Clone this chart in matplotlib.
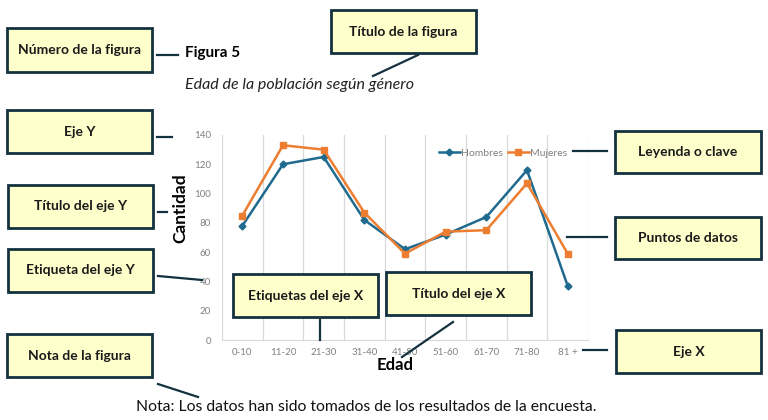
import matplotlib
matplotlib.use("Agg")
import matplotlib.pyplot as plt
from matplotlib.patches import Rectangle
from matplotlib.lines import Line2D

categories = ["0-10", "11-20", "21-30", "31-40", "41-50", "51-60", "61-70", "71-80", "81 +"]
hombres = [78, 120, 125, 82, 62, 72, 84, 116, 37]
mujeres = [85, 133, 130, 87, 59, 74, 75, 107, 59]
yticks = [0, 20, 40, 60, 80, 100, 120, 140]

W, H = 768, 420
fig = plt.figure(figsize=(W / 100, H / 100), dpi=100)
plt.rcParams['font.family'] = ['Lato', 'DejaVu Sans']

def fx(x):
    return x / W

def fy(y):
    return 1 - y / H

# main chart axes
l, r, t, b = 222, 588, 135, 340
ax = fig.add_axes([fx(l), fy(b), (r - l) / W, (b - t) / H])
x = list(range(len(categories)))
ax.plot(x, hombres, color="#1F6A8E", lw=1.8, marker="D", ms=3.5, label="Hombres", zorder=3)
ax.plot(x, mujeres, color="#ED7D31", lw=1.8, marker="s", ms=4.5, label="Mujeres", zorder=3)
ax.set_xlim(-0.5, len(categories) - 0.5)
ax.set_ylim(0, 140)
ax.set_yticks(yticks)
ax.set_xticks(x)
ax.set_xticklabels(categories)
for xb in range(0, len(categories) + 1):
    ax.axvline(xb - 0.5, color="#D9D9D9", lw=0.9, zorder=0)
for s in ["top", "right", "left"]:
    ax.spines[s].set_visible(False)
ax.spines["bottom"].set_color("#D9D9D9")
ax.tick_params(axis="both", length=0, labelsize=7, labelcolor="#808080", pad=6)
ax.tick_params(axis="y", pad=8)
ax.set_ylabel("Cantidad", fontsize=12.5, fontweight="bold", color="black")
ax.yaxis.set_label_coords((180 - l) / (r - l), (b - 208) / (b - t))
ax.set_xlabel("Edad", fontsize=12, fontweight="bold", color="black")
ax.xaxis.set_label_coords((395 - l) / (r - l), (b - 365) / (b - t))
ax.xaxis.label.set_va("center")
ax.yaxis.label.set_va("center")
leg = ax.legend(loc="center right", bbox_to_anchor=(1 - 21 / (r - l), (b - 153) / (b - t)),
                ncol=2, frameon=False,
                fontsize=7.5, labelcolor="#808080", handlelength=2.0, handletextpad=0.1,
                columnspacing=0.5, borderaxespad=0, borderpad=0)

# texts
fig.text(fx(185), fy(53), "Figura 5", fontsize=11, fontweight="bold", va="center", ha="left")
fig.text(fx(185), fy(85), "Edad de la población según género", fontsize=11.5, style="italic",
         va="center", ha="left", color="#222222")
fig.text(fx(366), fy(407), "Nota: Los datos han sido tomados de los resultados de la encuesta.",
         fontsize=11.3, va="center", ha="center", color="#111111")

boxes = [
    ("Número de la figura", 7, 28, 152, 72),
    ("Título de la figura", 331, 10, 476, 53),
    ("Eje Y", 7, 110, 152, 153),
    ("Título del eje Y", 8, 185, 153, 228),
    ("Etiqueta del eje Y", 8, 249, 153, 292),
    ("Nota de la figura", 7, 334, 152, 377),
    ("Etiquetas del eje X", 233, 274, 378, 317),
    ("Título del eje X", 386, 272, 531, 315),
    ("Leyenda o clave", 615, 131, 761, 173),
    ("Puntos de datos", 615, 217, 761, 259),
    ("Eje X", 616, 330, 761, 373),
]
for txt, x0, y0, x1, y1 in boxes:
    fig.patches.append(Rectangle((fx(x0), fy(y1)), (x1 - x0) / W, (y1 - y0) / H,
                                 transform=fig.transFigure, facecolor="#FFFFCC",
                                 edgecolor="#14313F", lw=2, zorder=5))
    fig.text(fx((x0 + x1) / 2), fy((y0 + y1) / 2), txt, fontsize=10, fontweight="bold",
             ha="center", va="center", color="#1a1a1a", zorder=6)

connectors = [
    (157, 55, 178, 55),
    (418, 55, 373, 76),
    (157, 137, 172, 137),
    (158, 212, 167, 212),
    (158, 276, 202, 280),
    (158, 384, 198, 397),
    (320, 320, 320, 340),
    (453, 322, 402, 357),
    (573, 151, 607, 151),
    (567, 237, 607, 237),
    (583, 350, 607, 350),
]
for x0, y0, x1, y1 in connectors:
    fig.lines.append(Line2D([fx(x0), fx(x1)], [fy(y0), fy(y1)], transform=fig.transFigure,
                            color="#14313F", lw=1.6, zorder=7))

fig.savefig("out.png", dpi=100)
